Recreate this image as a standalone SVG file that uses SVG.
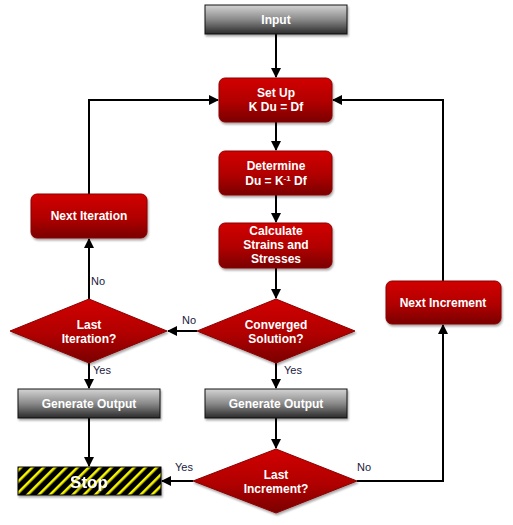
<svg xmlns="http://www.w3.org/2000/svg" width="513" height="525" viewBox="0 0 513 525">
<defs>
<linearGradient id="red" x1="0" y1="0" x2="0" y2="1">
<stop offset="0" stop-color="#d20000"/>
<stop offset="0.55" stop-color="#b00000"/>
<stop offset="1" stop-color="#7a0000"/>
</linearGradient>
<linearGradient id="gray" x1="0" y1="0" x2="0" y2="1">
<stop offset="0" stop-color="#d4d4d4"/>
<stop offset="0.5" stop-color="#8a8a8a"/>
<stop offset="1" stop-color="#2a2a2a"/>
</linearGradient>
<pattern id="hatch" width="8" height="8" patternUnits="userSpaceOnUse" patternTransform="rotate(45)">
<rect width="8" height="8" fill="#000"/>
<rect width="2.6" height="8" fill="#f5f500"/>
</pattern>
<filter id="sh" x="-10%" y="-10%" width="125%" height="135%">
<feGaussianBlur in="SourceAlpha" stdDeviation="1.2"/>
<feOffset dx="1" dy="2"/>
<feComponentTransfer><feFuncA type="linear" slope="0.35"/></feComponentTransfer>
<feMerge><feMergeNode/><feMergeNode in="SourceGraphic"/></feMerge>
</filter>
<marker id="arr" viewBox="0 0 10 10" refX="9" refY="5" markerWidth="5" markerHeight="5" orient="auto">
<path d="M0,0 L10,5 L0,10 z" fill="#000"/>
</marker>
</defs>
<style>
.rbox{fill:url(#red);stroke:#8a0000;stroke-width:1;filter:url(#sh)}
.gbox{fill:url(#gray);stroke:#111;stroke-width:1;filter:url(#sh)}
.t{font-family:"Liberation Sans",Arial,sans-serif;font-weight:bold;font-size:12px;fill:#fff;text-anchor:middle}
.lbl{font-family:"Liberation Sans",Arial,sans-serif;font-size:11px;fill:#1a1a40}
.c{fill:none;stroke:#000;stroke-width:2}
</style>

<g id="connectors">
<path class="c" d="M276,34 V77" marker-end="url(#arr)"/>
<path class="c" d="M276,122 V150" marker-end="url(#arr)"/>
<path class="c" d="M276,195 V222" marker-end="url(#arr)"/>
<path class="c" d="M276,268 V298" marker-end="url(#arr)"/>
<path class="c" d="M197,331 H168" marker-end="url(#arr)"/>
<path class="c" d="M276,363 V388" marker-end="url(#arr)"/>
<path class="c" d="M89,363 V388" marker-end="url(#arr)"/>
<path class="c" d="M89,299 V239" marker-end="url(#arr)"/>
<path class="c" d="M89,194 V100 H218" marker-end="url(#arr)"/>
<path class="c" d="M89,418 V466" marker-end="url(#arr)"/>
<path class="c" d="M276,418 V448" marker-end="url(#arr)"/>
<path class="c" d="M193,481 H162" marker-end="url(#arr)"/>
<path class="c" d="M357,481 H443 V325" marker-end="url(#arr)"/>
<path class="c" d="M443,281 V100 H333" marker-end="url(#arr)"/>
<text class="lbl" x="182" y="324">No</text>
<text class="lbl" x="284" y="374">Yes</text>
<text class="lbl" x="93" y="374">Yes</text>
<text class="lbl" x="91" y="285">No</text>
<text class="lbl" x="175" y="471">Yes</text>
<text class="lbl" x="357" y="471">No</text>
</g>

<g id="input">
<rect class="gbox" x="205" y="5" width="142" height="29"/>
<text class="t" x="276" y="24">Input</text>
</g>

<g id="setup">
<rect class="rbox" x="219" y="78" width="113" height="44" rx="6"/>
<text class="t" x="276" y="97">Set Up</text>
<text class="t" x="276" y="111">K Du = Df</text>
</g>

<g id="determine">
<rect class="rbox" x="219" y="151" width="113" height="44" rx="6"/>
<text class="t" x="276" y="170">Determine</text>
<text class="t" x="276" y="185">Du = K<tspan font-size="8" dy="-4">-1</tspan><tspan dy="4"> Df</tspan></text>
</g>

<g id="calculate">
<rect class="rbox" x="219" y="223" width="113" height="45" rx="6"/>
<text class="t" x="276" y="235">Calculate</text>
<text class="t" x="276" y="249">Strains and</text>
<text class="t" x="276" y="263">Stresses</text>
</g>

<g id="converged">
<path class="rbox" d="M276,299 L355,331 L276,363 L197,331 Z"/>
<text class="t" x="276" y="329">Converged</text>
<text class="t" x="276" y="343">Solution?</text>
</g>

<g id="lastiteration">
<path class="rbox" d="M89,299 L167,331 L89,363 L10,331 Z"/>
<text class="t" x="89" y="329">Last</text>
<text class="t" x="89" y="343">Iteration?</text>
</g>

<g id="nextiteration">
<rect class="rbox" x="31" y="194" width="116" height="44" rx="6"/>
<text class="t" x="89" y="220">Next Iteration</text>
</g>

<g id="genout1">
<rect class="gbox" x="18" y="389" width="142" height="29"/>
<text class="t" x="89" y="408">Generate Output</text>
</g>

<g id="genout2">
<rect class="gbox" x="205" y="389" width="142" height="29"/>
<text class="t" x="276" y="408">Generate Output</text>
</g>

<g id="stop">
<rect x="18" y="467" width="143" height="28" fill="url(#hatch)" stroke="#000" stroke-width="1" filter="url(#sh)"/>
<text x="89" y="488" font-family="Liberation Sans,Arial,sans-serif" font-weight="bold" font-size="17" fill="#fff" text-anchor="middle" filter="url(#sh)">Stop</text>
</g>

<g id="lastincrement">
<path class="rbox" d="M276,449 L357,481 L276,513 L193,481 Z"/>
<text class="t" x="276" y="479">Last</text>
<text class="t" x="276" y="493">Increment?</text>
</g>

<g id="nextincrement">
<rect class="rbox" x="386" y="281" width="115" height="43" rx="6"/>
<text class="t" x="443" y="307">Next Increment</text>
</g>
</svg>
